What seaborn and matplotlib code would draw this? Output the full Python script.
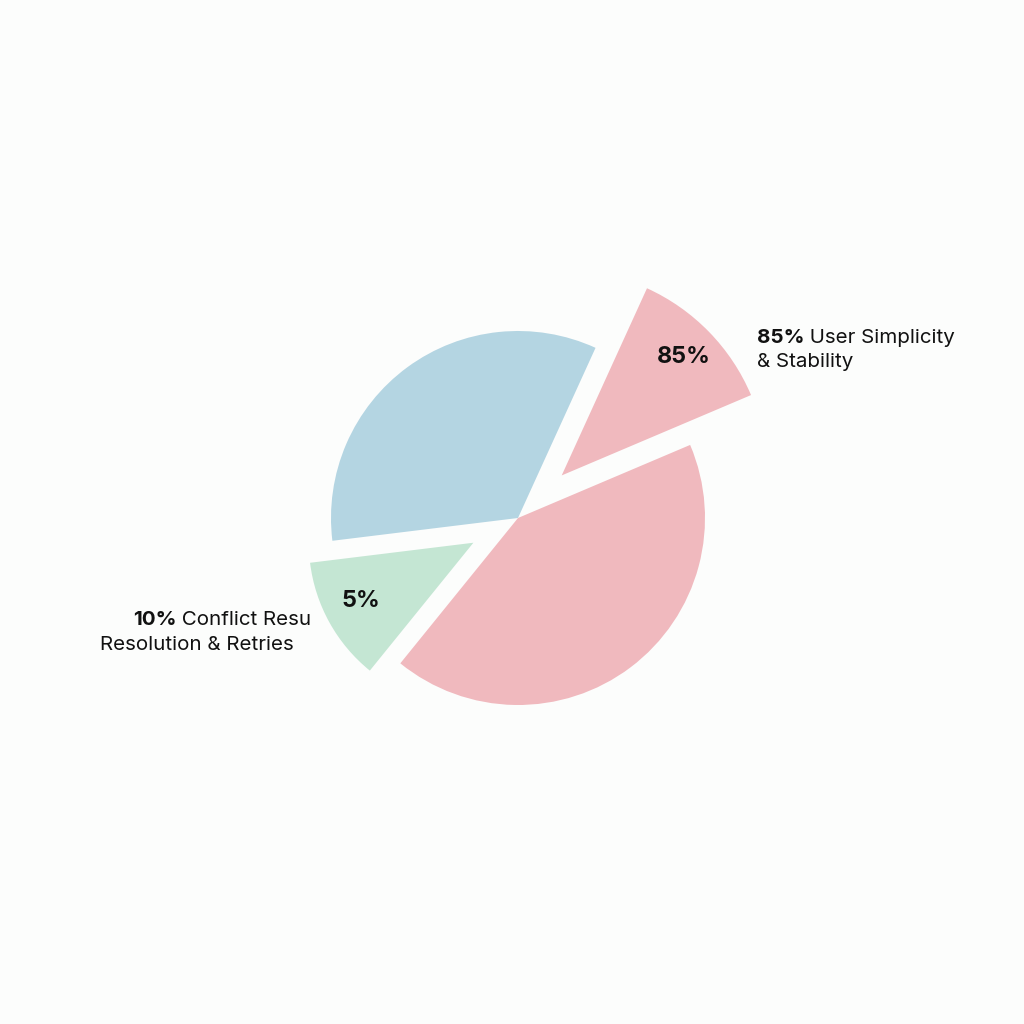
import matplotlib
matplotlib.use("Agg")
import matplotlib.pyplot as plt
import seaborn as sns

# slice shares (in degrees of the circle)
labels = ["User Simplicity & Stability (cut)", "Other", "Conflict Resolution & Retries", "User Simplicity & Stability"]
shares = [42.5, 121.5, 44, 152]
colors = ["#f0b9be", "#b4d5e2", "#c4e6d3", "#f0b9be"]
explode = [61, 0, 51, 0]          # pie explode is in data units (pixels here)
radius_scale = [1.10, 1.0, 0.88, 1.0]

inner_labels = ["85%", "5%"]
right_label = ["85%", " User Simplicity", "& Stability"]
left_label = ["10%", " Conflict Resu", "Resolution & Retries"]

sns.set_theme(style="white")
plt.rcParams["font.family"] = ["Inter", "DejaVu Sans"]

fig = plt.figure(figsize=(10.24, 10.24), dpi=100, facecolor="#fcfdfc")
ax = fig.add_axes([0, 0, 1, 1])
ax.set_facecolor("#fcfdfc")

R = 187
wedges, _ = ax.pie(shares, colors=colors, startangle=23, counterclock=True,
                   radius=R, center=(518, 506), explode=explode,
                   wedgeprops=dict(linewidth=0))
for w, s in zip(wedges, radius_scale):
    w.set_radius(R * s)

ax.set_xlim(0, 1024)
ax.set_ylim(0, 1024)
ax.set_aspect("equal")
ax.axis("off")

# numbers inside the cut slices
ax.text(684, 1024 - 357, inner_labels[0], ha="center", va="center",
        fontsize=16.8, fontweight="bold", color="#111111")
ax.text(361, 1024 - 601, inner_labels[1], ha="center", va="center",
        fontsize=16.8, fontweight="bold", color="#111111")

# outside labels
fs = 14.8
t = ax.text(757, 1024 - 338, right_label[0], ha="left", va="center",
            fontsize=fs, fontweight="bold", color="#111111")
ax.annotate(right_label[1], xy=(1, 0), xycoords=t, va="bottom", ha="left",
            fontsize=fs, color="#111111")
ax.text(757, 1024 - 362, right_label[2], ha="left", va="center",
        fontsize=fs, color="#111111")

t2 = ax.text(133, 1024 - 620, left_label[0], ha="left", va="center",
             fontsize=fs, fontweight="bold", color="#111111")
ax.annotate(left_label[1], xy=(1, 0), xycoords=t2, va="bottom", ha="left",
            fontsize=fs, color="#111111")
ax.text(100, 1024 - 645, left_label[2], ha="left", va="center",
        fontsize=fs, color="#111111")

fig.savefig("out.png", dpi=100, facecolor=fig.get_facecolor())
